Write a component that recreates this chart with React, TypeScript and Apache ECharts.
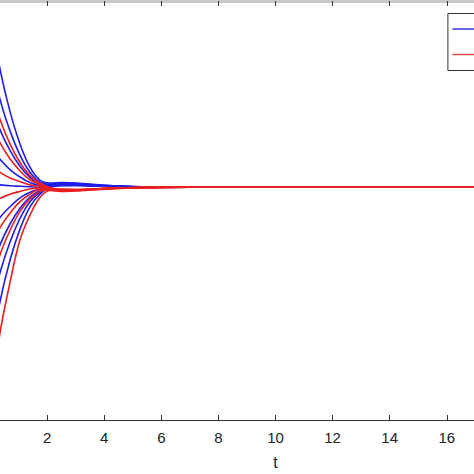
import React, { useEffect, useRef } from "react";
import * as echarts from "echarts";

// time samples (t)
const times = [0, 0.35, 0.7, 1.05, 1.4, 1.75, 2.1, 2.5, 3, 3.5, 4, 5, 6, 8, 20];

// blue trajectories
const blueSeries: number[][] = [
  [3.81, 2.54, 1.63, 0.93, 0.43, 0.15, 0.09, 0.1, 0.09, 0.07, 0.04, 0.015, 0.005, 0, 0],
  [2.84, 1.89, 1.21, 0.69, 0.32, 0.11, 0.07, 0.09, 0.08, 0.06, 0.04, 0.012, 0.004, 0, 0],
  [1.86, 1.24, 0.79, 0.45, 0.21, 0.07, 0.06, 0.08, 0.07, 0.05, 0.03, 0.01, 0.003, 0, 0],
  [0.9, 0.6, 0.38, 0.22, 0.1, 0.04, 0.05, 0.07, 0.06, 0.05, 0.03, 0.01, 0.003, 0, 0],
  [0.08, 0.05, 0.03, 0.02, 0.01, 0.0, 0.04, 0.06, 0.06, 0.04, 0.03, 0.01, 0.002, 0, 0],
  [-0.98, -0.65, -0.42, -0.23, -0.11, -0.04, 0.03, 0.05, 0.05, 0.04, 0.025, 0.008, 0.002, 0, 0],
  [-1.86, -1.24, -0.79, -0.45, -0.21, -0.07, 0.02, 0.05, 0.05, 0.035, 0.02, 0.007, 0.002, 0, 0],
  [-2.76, -1.84, -1.18, -0.67, -0.31, -0.11, 0.01, 0.04, 0.04, 0.03, 0.02, 0.006, 0.002, 0, 0],
  [-3.69, -2.46, -1.57, -0.9, -0.42, -0.15, 0.0, 0.03, 0.04, 0.03, 0.02, 0.005, 0.001, 0, 0],
];

// red trajectories
const redSeries: number[][] = [
  [2.19, 1.46, 0.93, 0.53, 0.25, 0.09, -0.01, -0.04, -0.05, -0.04, -0.025, -0.008, -0.002, 0, 0],
  [1.44, 0.96, 0.61, 0.35, 0.16, 0.06, -0.02, -0.05, -0.05, -0.04, -0.025, -0.008, -0.002, 0, 0],
  [0.48, 0.32, 0.2, 0.12, 0.05, 0.02, -0.03, -0.06, -0.06, -0.045, -0.03, -0.01, -0.003, 0, 0],
  [-0.36, -0.24, -0.15, -0.09, -0.04, -0.015, -0.04, -0.07, -0.06, -0.05, -0.03, -0.01, -0.003, 0, 0],
  [-1.31, -0.87, -0.56, -0.31, -0.15, -0.05, -0.05, -0.07, -0.07, -0.05, -0.035, -0.012, -0.003, 0, 0],
  [-2.18, -1.45, -0.93, -0.52, -0.25, -0.09, -0.06, -0.08, -0.07, -0.055, -0.035, -0.012, -0.004, 0, 0],
  [-4.7, -3.13, -2.05, -1.13, -0.6, -0.22, -0.07, -0.09, -0.08, -0.06, -0.04, -0.014, -0.004, 0, 0],
];

const xTicks = [0, 2, 4, 6, 8, 10, 12, 14, 16, 18, 20];
// tick labels that fall inside the cropped picture
const shownLabels = ["2", "4", "6", "8", "10", "12", "14", "16"];

const BLUE = "#1f1fe6";
const RED = "#ea1f1f";

// the plot is cropped: its left edge sits just outside the picture
const SHIFT = 10.4;
const CHART_W = 571.4;

export default function App() {
  const chartRef = useRef<HTMLDivElement>(null);

  useEffect(() => {
    document.body.style.margin = "0";
    if (!chartRef.current) return;
    const chart = echarts.init(chartRef.current, undefined, { renderer: "svg" });

    const makeLine = (vals: number[], color: string) => ({
      type: "line",
      xAxisIndex: 0,
      data: vals.map((v, i) => [times[i], v]),
      smooth: 0.35,
      symbol: "none",
      lineStyle: { color, width: 1.6 },
      z: 2,
    });

    const axisCommon = {
      type: "value",
      min: xTicks[0],
      max: xTicks[xTicks.length - 1],
      interval: 2,
      splitLine: { show: false },
    };

    chart.setOption({
      animation: false,
      grid: { left: 0, right: 0, top: 1, bottom: 54, containLabel: false, outerBoundsMode: "none" },
      xAxis: [
        {
          ...axisCommon,
          position: "bottom",
          name: "t",
          nameLocation: "middle",
          nameGap: 34,
          nameTextStyle: { fontFamily: "Liberation Sans", fontSize: 16, color: "#222" },
          axisLine: { onZero: false, lineStyle: { color: "#333", width: 1 } },
          axisTick: { inside: true, length: 5, lineStyle: { color: "#333" } },
          axisLabel: {
            margin: 10,
            fontFamily: "Liberation Sans",
            fontSize: 15,
            color: "#222",
            formatter: (v: number) => (shownLabels.includes(String(v)) ? String(v) : ""),
          },
        },
        {
          ...axisCommon,
          position: "top",
          axisLine: { onZero: false, lineStyle: { color: "#c8c8c8", width: 3 } },
          axisTick: { inside: true, length: 5, lineStyle: { color: "#333" } },
          axisLabel: { show: false },
        },
      ],
      yAxis: { type: "value", min: -5, max: 4, show: false },
      series: [
        ...blueSeries.map((s) => makeLine(s, BLUE)),
        ...redSeries.map((s) => makeLine(s, RED)),
      ],
      graphic: [
        {
          type: "rect",
          shape: { x: 447.5 + SHIFT, y: 13.5, width: 80, height: 57 },
          style: { fill: "#fff", stroke: "#333", lineWidth: 1 },
          z: 10,
        },
        {
          type: "line",
          shape: { x1: 452 + SHIFT, y1: 29, x2: 510 + SHIFT, y2: 29 },
          style: { stroke: "#3535d8", lineWidth: 1.5 },
          z: 11,
        },
        {
          type: "line",
          shape: { x1: 452 + SHIFT, y1: 54.5, x2: 510 + SHIFT, y2: 54.5 },
          style: { stroke: "#d84a4a", lineWidth: 1.5 },
          z: 11,
        },
      ],
    });

    return () => {
      chart.dispose();
    };
  }, []);

  return (
    <div style={{ width: "474px", height: "474px", overflow: "hidden", position: "relative" }}>
      <div
        ref={chartRef}
        style={{ position: "absolute", left: -SHIFT, top: 0, width: CHART_W + "px", height: "474px" }}
      />
    </div>
  );
}
